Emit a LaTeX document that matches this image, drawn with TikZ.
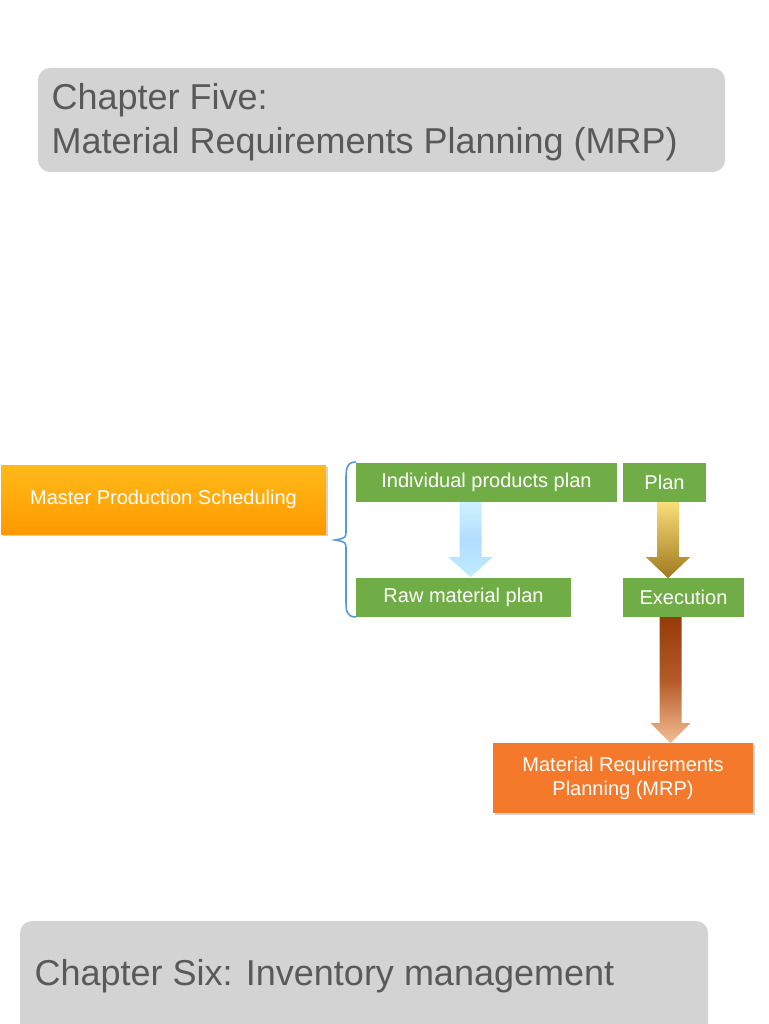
\documentclass[tikz,border=0pt]{standalone}
\usepackage{fontspec}
\setmainfont{Liberation Sans}
\usetikzlibrary{shadows,calc}
\definecolor{titlegray}{HTML}{D3D3D3}
\definecolor{tgray}{HTML}{595959}
\definecolor{gr}{HTML}{70AD47}
\definecolor{bl}{HTML}{5B9BD5}
\begin{document}
\begin{tikzpicture}[x=1pt,y=-1pt,
  title/.style={fill=titlegray,rounded corners=12pt,draw=none},
  ttext/.style={text=tgray,font=\fontsize{36}{42}\selectfont,anchor=base west},
  gbox/.style={fill=gr,text=white,font=\fontsize{20}{24}\selectfont,draw=none,inner sep=0pt},
  arr/.style={draw=none}]
\useasboundingbox (0,0) rectangle (768,1024);
% titles
\fill[title] (38,68) rectangle (725,172);
\node[ttext] (t1) at (48,110) {Chapter Five:};
\node[ttext] (t2) at (48,154) {Material Requirements Planning (MRP)};
\fill[title] (20,921) rectangle (708,1040);
\node[ttext] (t3) at (31,985) {Chapter Six: Inventory management};
% MPS
\node[draw=none,top color=orange!60!yellow!90!white,bottom color=orange!80!yellow,drop shadow={opacity=0.35,shadow xshift=2pt,shadow yshift=-2pt},
  minimum width=325,minimum height=69,inner sep=0pt,text=white,font=\fontsize{20}{24}\selectfont] (mps) at (163.5,499.5) {Master Production Scheduling};
% brace
\draw[bl,line width=1.6pt] (356,462) .. controls (346,462) and (346,470) .. (346,480) -- (346,530)
  .. controls (346,538) .. (335,540) .. controls (346,542) .. (346,550) -- (346,600)
  .. controls (346,610) and (346,617) .. (356,617);
% green boxes
\node[gbox,minimum width=261,minimum height=39] (ind) at (486.5,482.5) {Individual products plan};
\node[gbox,minimum width=83,minimum height=39] (plan) at (664.5,482.5) {Plan};
\node[gbox,minimum width=215,minimum height=39] (raw) at (463.5,597.5) {Raw material plan};
\node[gbox,minimum width=121,minimum height=39] (exe) at (683.5,597.5) {Execution};
% MRP
\node[fill={rgb,255:red,244;green,121;blue,43},text=white,font=\fontsize{20}{24}\selectfont,align=center,
  drop shadow={opacity=0.35,shadow xshift=2pt,shadow yshift=-2pt},
  minimum width=260,minimum height=70,inner sep=0pt] (mrp) at (623,778) {Material Requirements\\Planning (MRP)};
% arrows
\shade[top color=blue!25!cyan!20!white,bottom color=blue!30!cyan!25!white,middle color=blue!45!cyan!30!white]
  ($(ind.south)+(-27,0)$) -- ++(0,55) -- ++(-11,0) -- ++(22,20) -- ++(22,-20) -- ++(-11,0) -- ++(0,-55) -- cycle;
\shade[top color={rgb,255:red,250;green,222;blue,120},bottom color={rgb,255:red,160;green,120;blue,30}]
  ($(plan.south)+(-7.5,0)$) -- ++(0,55) -- ++(-11,0) -- ++(22,21) -- ++(22,-21) -- ++(-11,0) -- ++(0,-55) -- cycle;
\shade[top color={rgb,255:red,150;green,60;blue,10},bottom color={rgb,255:red,245;green,190;blue,150},middle color={rgb,255:red,180;green,90;blue,40}]
  ($(exe.south)+(-24,0)$) -- ++(0,106) -- ++(-9,0) -- ++(20,20) -- ++(20,-20) -- ++(-9,0) -- ++(0,-106) -- cycle;
\end{tikzpicture}
\end{document}
